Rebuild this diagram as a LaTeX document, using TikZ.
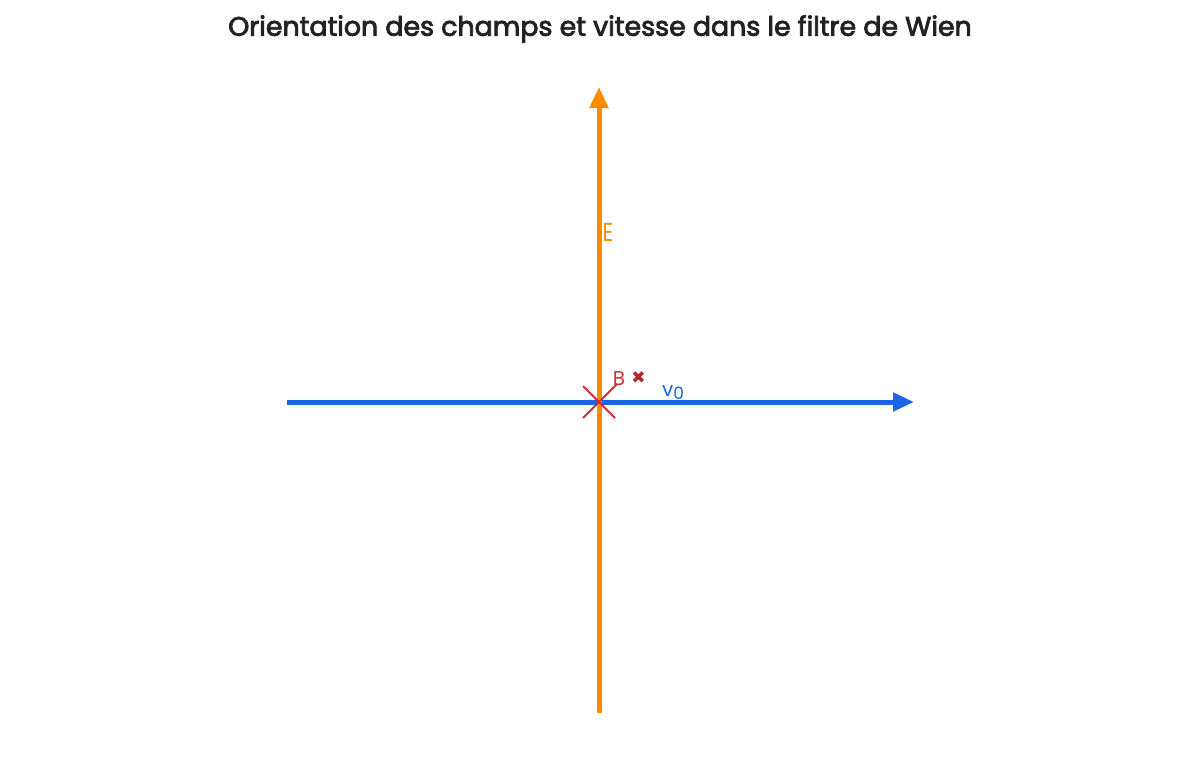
\documentclass[tikz,border=0pt]{standalone}
\usepackage{fontspec}
\setmainfont{Poppins}
\newfontfamily\titlefont{Poppins}[FakeBold=3]
\newfontfamily\symfont{DejaVu Sans}
\usetikzlibrary{arrows.meta}
\definecolor{eorange}{HTML}{FF8C00}
\definecolor{vblue}{HTML}{1A66E6}
\definecolor{bred}{HTML}{D32F2F}
\definecolor{titlec}{HTML}{222222}
\tikzset{
  vec/.style={line width=5pt, -{Triangle[length=21pt,width=18pt]}},
  lbl/.style={inner sep=0pt, font=\fontsize{20}{20}\selectfont},
}
\begin{document}
\begin{tikzpicture}[x=1pt,y=-1pt]
\useasboundingbox[fill=white] (0,0) rectangle (1200,763);
\node[font=\titlefont\fontsize{26.8}{26.8}\selectfont, text=titlec, anchor=center] (title) at (600,29) {Orientation des champs et vitesse dans le filtre de Wien};
\coordinate (vs) at (287,402);
\coordinate (ve) at (914,402);
\coordinate (es) at (599,713);
\coordinate (ee) at (599,87);
\coordinate (o) at (599,402);
\draw[vec, vblue] (vs) -- (ve);
\draw[vec, eorange] (es) -- (ee);
\draw[bred, line width=1.8pt] (583,386) -- (615,418);
\draw[bred, line width=1.8pt] (583,418) -- (615,386) -- (617,384);
\node[lbl, text=bred, anchor=center] (B) at (619,379) {B};
\node[lbl, text=bred!85!black, anchor=center, font=\symfont\fontsize{17}{17}\selectfont] (Bx) at (638.5,378) {✖};
\node[lbl, text=vblue, anchor=base west] (v0) at (662,396) {v\raisebox{-3pt}{\fontsize{17}{17}\selectfont 0}};
\node[lbl, text=eorange, anchor=center, xscale=0.8, font=\fontsize{26}{26}\selectfont] (E) at (608,232) {E};
\end{tikzpicture}
\end{document}
